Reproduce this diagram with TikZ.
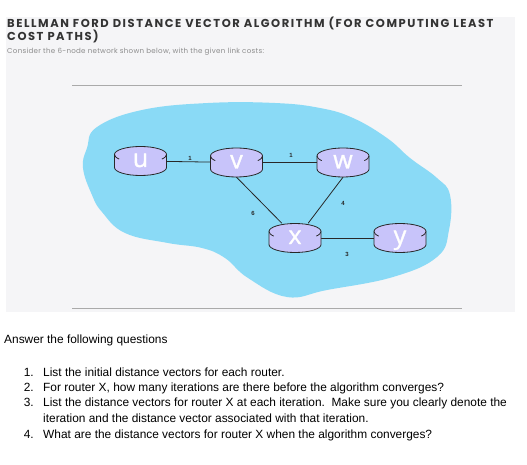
\documentclass[tikz,border=0pt]{standalone}
\usepackage{fontspec}
\usepackage{tikz}
\usetikzlibrary{
    calc,
    backgrounds
}
\usepackage{xcolor}
\newfontfamily\titlefont[LetterSpace=13.5]{Poppins}
\newfontfamily\introfont[LetterSpace=4]{Poppins}
\newfontfamily\bodyfont{Liberation Sans}
\newfontfamily\routerfont[FakeBold=1.2]{Open Sans}
\definecolor{panelgray}{RGB}{245,245,247}
\definecolor{cloudblue}{RGB}{138,218,246}
\definecolor{routerlilac}{RGB}{200,196,250}
\definecolor{titlegray}{RGB}{51,51,51}
\definecolor{subgray}{RGB}{140,140,140}
\definecolor{rulegray}{RGB}{170,170,170}
\definecolor{edgegray}{RGB}{40,40,40}

\begin{document}
\begin{tikzpicture}[
    x=1pt, y=1pt,
    router/.style={
        rectangle, minimum width=52pt, minimum height=29pt, inner sep=0pt,
        text height=12pt, text depth=0pt, text=white,
        font=\routerfont\fontsize{25}{25}\selectfont
    },
    cost/.style={font=\bodyfont\bfseries\fontsize{6}{6}\selectfont, text=edgegray, inner sep=0pt},
    link/.style={line width=0.8pt, edgegray},
    question/.style={anchor=base west, inner sep=0pt, font=\bodyfont\fontsize{11.9}{12}\selectfont}
]
\useasboundingbox (0,0) rectangle (527,464);

% Heading
\node[anchor=base west, inner sep=0pt, text=titlegray, font=\titlefont\bfseries\fontsize{11.5}{11.5}\selectfont] (title1) at (7,436.5)
    {BELLMAN FORD DISTANCE VECTOR ALGORITHM (FOR COMPUTING LEAST};
\node[anchor=base west, inner sep=0pt, text=titlegray, font=\titlefont\bfseries\fontsize{11.5}{11.5}\selectfont] (title2) at (7,423.5)
    {COST PATHS)};
\node[anchor=west, inner sep=0pt, text=subgray, font=\introfont\fontsize{7.1}{7.1}\selectfont] (intro) at (7,412)
    {Consider the 6-node network shown below, with the given link costs:};

% Routers
\node[router] (u) at (140.5,303) {u};
\node[router] (v) at (236.5,301.5) {v};
\node[router] (w) at (343,301.5) {w};
\node[router] (x) at (295,226) {x};
\node[router] (y) at (400,226) {y};

% Link costs
\foreach \px/\py/\c/\nm in {190/306/1/cuv, 291/309/1/cvw, 253/251/6/cvx, 343/261/4/cwx, 347/210/3/cxy} {
    \node[cost] (\nm) at (\px,\py) {\c};
}

\begin{scope}[on background layer]
    % panel and rules
    \fill[panelgray] (6,152) rectangle (515,447);
    \draw[rulegray, line width=1pt] (72,378) -- (462,378);
    \draw[rulegray, line width=1pt] (72,156) -- (462,156);

    % network cloud
    \fill[cloudblue] plot[smooth cycle, tension=0.7] coordinates {
        (97,337) (142,354) (208,361) (275,361) (320,356) (353,346) (387,326)
        (410,306) (437,286) (450,269) (449,234) (437,207) (393,187) (327,174)
        (287,167) (248,186) (225,206) (202,216) (168,221) (125,231) (102,252)
        (92,269) (83,296) (87,316)};

    % links
    \draw[link] (u) -- (v);
    \draw[link] (v) -- (w);
    \draw[link] (v.south) -- ($(x.north)!0.5!(x.north west)$);
    \draw[link] (w.south) -- ($(x.north)!0.5!(x.north east)$);
    \draw[link] (x) -- (y);

    % router bodies
    \foreach \n in {u,v,w,x,y} {
        \filldraw[fill=routerlilac, draw=edgegray, line width=0.8pt]
            ($(\n)+(-26,6.5)$) -- ($(\n)+(-26,-6.5)$)
            arc[start angle=180, end angle=360, x radius=26, y radius=8]
            -- ($(\n)+(26,6.5)$)
            arc[start angle=0, end angle=180, x radius=26, y radius=8] -- cycle;
        \draw[edgegray, line width=0.8pt] ($(\n)+(-26,6.5)$)
            arc[start angle=180, end angle=215, x radius=26, y radius=8];
        \draw[edgegray, line width=0.8pt] ($(\n)+(26,6.5)$)
            arc[start angle=0, end angle=-35, x radius=26, y radius=8];
    }
\end{scope}

% Questions
\node[question] (ask) at (4,121) {Answer the following questions};
\foreach \yy/\num/\txt/\nm in {
    88/1./{List the initial distance vectors for each router.}/q1,
    73/2./{For router X, how many iterations are there before the algorithm converges?}/q2,
    58/3./{List the distance vectors for router X at each iteration.\ \ Make sure you clearly denote the}/q3,
    26/4./{What are the distance vectors for router X when the algorithm converges?}/q4} {
    \node[question, anchor=base east] (\nm n) at (34,\yy) {\num};
    \node[question] (\nm) at (43,\yy) {\txt};
}
\node[question] (q3b) at (43,42) {iteration and the distance vector associated with that iteration.};

\end{tikzpicture}
\end{document}
